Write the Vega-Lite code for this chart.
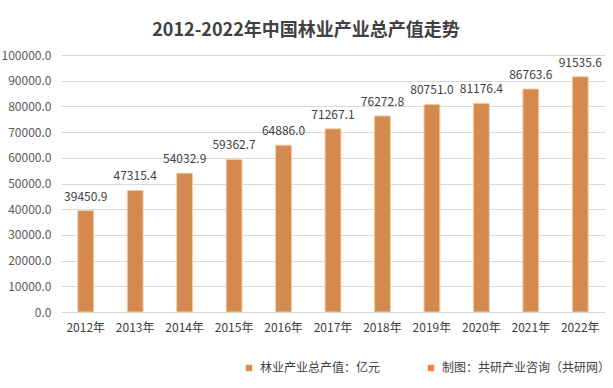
{
  "$schema": "https://vega.github.io/schema/vega-lite/v6.json",
  "autosize": "none",
  "width": 544,
  "height": 257,
  "padding": {"left": 61, "top": 55, "right": 8, "bottom": 76},
  "background": "white",
  "config": {
    "font": "Noto Sans CJK SC",
    "view": {"stroke": null}
  },
  "title": {
    "text": "2012-2022年中国林业产业总产值走势",
    "fontSize": 18,
    "fontWeight": "bold",
    "color": "#404040",
    "font": "Noto Sans CJK SC",
    "anchor": "middle",
    "frame": "bounds",
    "offset": 9
  },
  "data": {
    "values": [
      {"year": "2012年", "value": 39450.9, "series": "林业产业总产值：亿元"},
      {"year": "2013年", "value": 47315.4, "series": "林业产业总产值：亿元"},
      {"year": "2014年", "value": 54032.9, "series": "林业产业总产值：亿元"},
      {"year": "2015年", "value": 59362.7, "series": "林业产业总产值：亿元"},
      {"year": "2016年", "value": 64886.0, "series": "林业产业总产值：亿元"},
      {"year": "2017年", "value": 71267.1, "series": "林业产业总产值：亿元"},
      {"year": "2018年", "value": 76272.8, "series": "林业产业总产值：亿元"},
      {"year": "2019年", "value": 80751.0, "series": "林业产业总产值：亿元"},
      {"year": "2020年", "value": 81176.4, "series": "林业产业总产值：亿元"},
      {"year": "2021年", "value": 86763.6, "series": "林业产业总产值：亿元"},
      {"year": "2022年", "value": 91535.6, "series": "林业产业总产值：亿元"}
    ]
  },
  "encoding": {
    "x": {
      "field": "year",
      "type": "nominal",
      "sort": null,
      "scale": {"paddingInner": 0.68, "paddingOuter": 0.34},
      "axis": {
        "title": null,
        "labelAngle": 0,
        "labelFontSize": 12,
        "labelColor": "#404040",
        "labelPadding": 10,
        "domain": false,
        "ticks": false
      }
    },
    "y": {
      "field": "value",
      "type": "quantitative",
      "scale": {"domain": [0, 100000], "nice": false},
      "axis": {
        "title": null,
        "values": [0, 10000, 20000, 30000, 40000, 50000, 60000, 70000, 80000, 90000, 100000],
        "format": ".1f",
        "labelFontSize": 12,
        "labelColor": "#595959",
        "labelPadding": 10,
        "domain": false,
        "ticks": false,
        "gridColor": "#D9D9D9",
        "gridWidth": 1
      }
    }
  },
  "layer": [
    {
      "mark": {"type": "bar", "stroke": "#F3CBA5", "strokeWidth": 1},
      "encoding": {
        "color": {
          "field": "series",
          "type": "nominal",
          "scale": {
            "domain": ["林业产业总产值：亿元", "制图：共研产业咨询（共研网）"],
            "range": ["#D48A4E", "#F2813A"]
          },
          "legend": {
            "title": null,
            "orient": "none",
            "direction": "horizontal",
            "legendX": 182,
            "legendY": 307,
            "symbolType": "square",
            "symbolSize": 40,
            "symbolStrokeWidth": 0,
            "labelFontSize": 12,
            "labelColor": "#404040",
            "labelOffset": 5,
            "labelLimit": 0,
            "columnPadding": 44
          }
        }
      }
    },
    {
      "mark": {"type": "text", "baseline": "bottom", "dy": -7, "fontSize": 12, "color": "#404040"},
      "encoding": {
        "text": {"field": "value", "type": "quantitative", "format": ".1f"}
      }
    }
  ]
}
